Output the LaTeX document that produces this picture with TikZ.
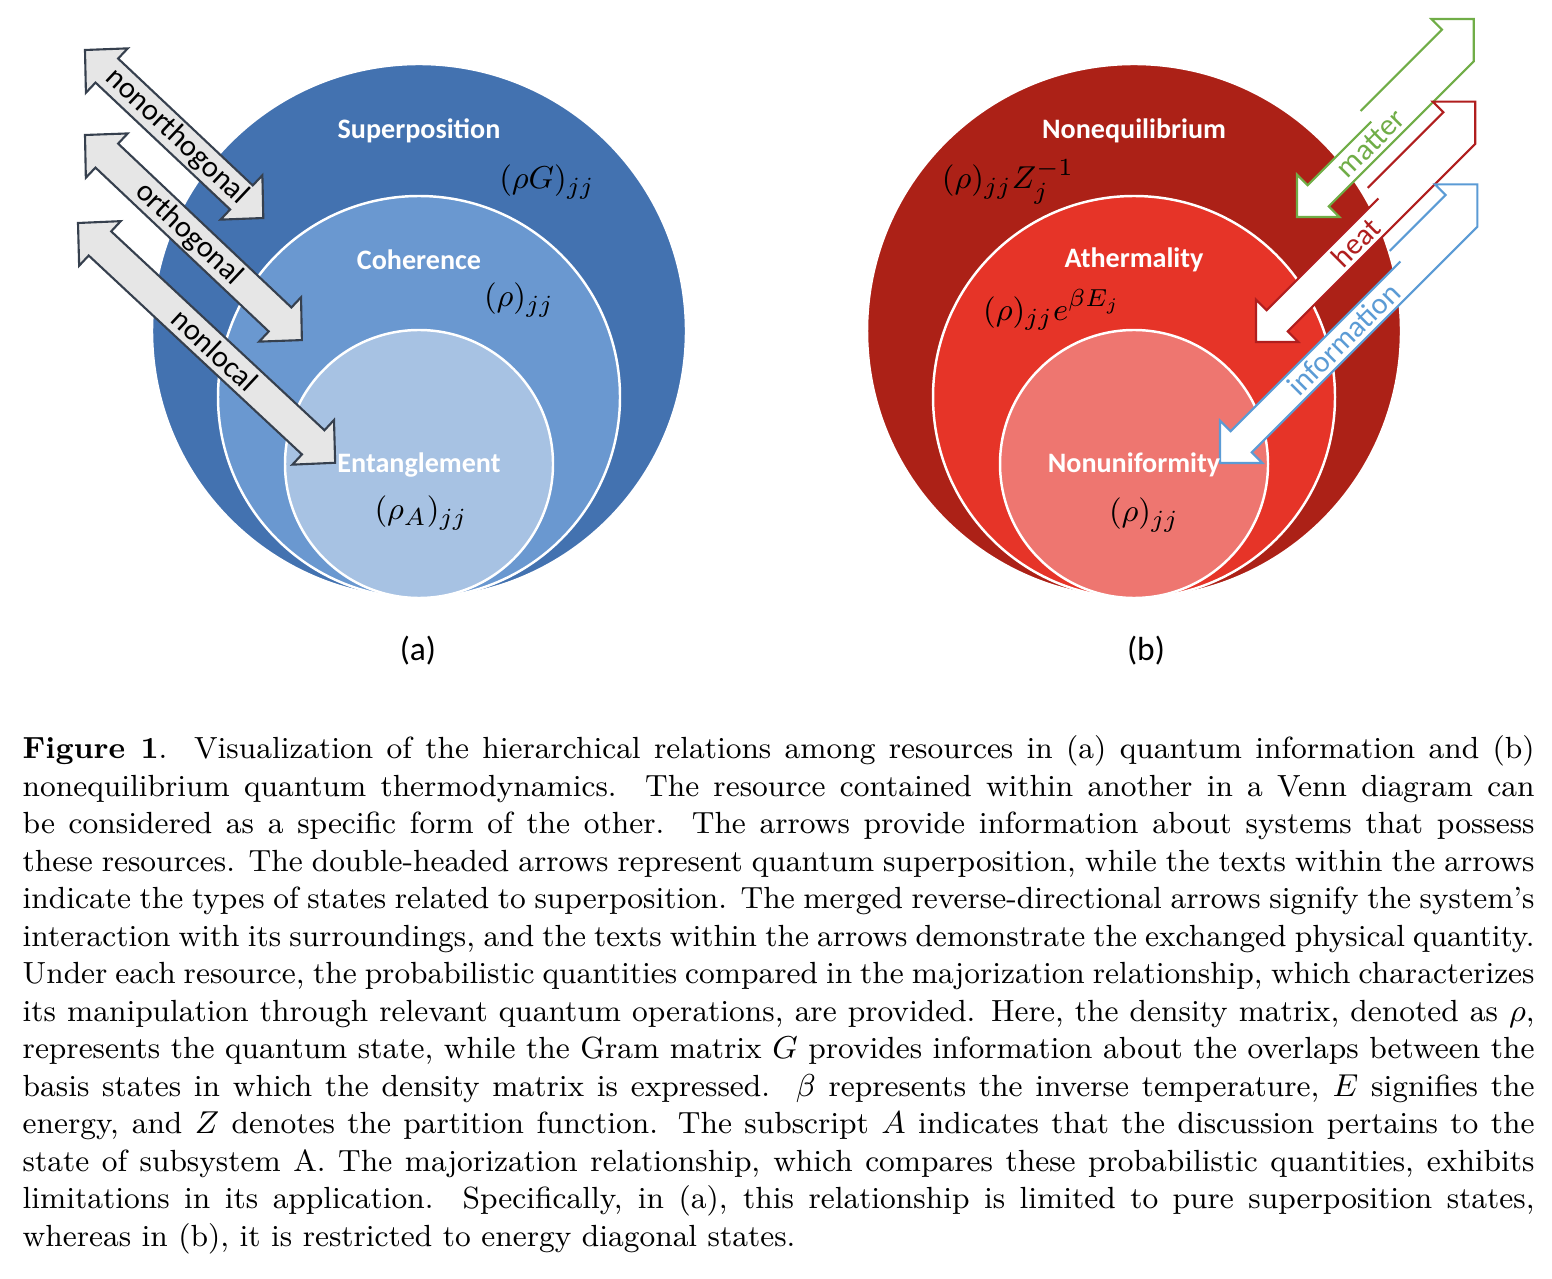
\documentclass[tikz,border=0pt]{standalone}
\usepackage{fontspec}
\newfontfamily\calib{Carlito}
\definecolor{bOut}{HTML}{4372B0}
\definecolor{bMid}{HTML}{6A98D0}
\definecolor{bIn}{HTML}{A7C2E3}
\definecolor{rOut}{HTML}{AC2117}
\definecolor{rMid}{HTML}{E63428}
\definecolor{rIn}{HTML}{EE7670}
\definecolor{arrG}{HTML}{E6E6E6}
\definecolor{arrE}{HTML}{36404E}
\definecolor{cMatter}{HTML}{70AD47}
\definecolor{cHeat}{HTML}{B01E1E}
\definecolor{cInfo}{HTML}{5B9BD5}
\tikzset{
  circ/.style={draw=white, line width=0.7pt},
  grayarr/.style={fill=arrG, draw=arrE, line width=0.6pt, line join=miter},
  title/.style={font=\calib\bfseries\fontsize{8}{9}\selectfont, text=white, inner sep=0pt},
  formula/.style={font=\fontsize{9.5}{11}\selectfont, inner sep=0pt},
  arrtext/.style={font=\calib\fontsize{8.6}{10}\selectfont, inner sep=0pt},
  sub/.style={font=\calib\fontsize{9.5}{11}\selectfont, inner sep=0pt},
}
\newcommand\dblarr[4]{%
  \begin{scope}[shift={(#1,#2)},rotate=#4]
    \draw[grayarr] (0,0)--(30,-30.5)--(30,-16.5)--({#3-30},-16.5)--({#3-30},-30.5)--(#3,0)
      --({#3-30},30.5)--({#3-30},16.5)--(30,16.5)--(30,30.5)--cycle;
  \end{scope}}
\newcommand\mergarr[8]{%
  \begin{scope}[shift={(#1,#2)},rotate=45]
    \fill[white] (0,0)--(30,-30)--(30,-15)--({#3-30},-15)--(#3,15)--({#3-30},45)--({#3-30},30)
      --(#4,30)--(#4,15)--(30,15)--(30,30)--cycle;
    \draw[#5, line width=0.6pt] (#4,15)--(30,15)--(30,30)--(0,0)--(30,-30)--(30,-15)--({#3-30},-15)
      --(#3,15)--({#3-30},45)--({#3-30},30)--(#4,30);
    \node[arrtext, text=#5, rotate=45] (#8) at (#7,0) {#6};
  \end{scope}}
\begin{document}
\begin{tikzpicture}[x=0.01cm,y=0.01cm]
\useasboundingbox (0,0) rectangle (1552,1278);
% left circles
\draw[circ, fill=bOut] (419,947) circle (267);
\draw[circ, fill=bMid] (419,881) circle (201);
\draw[circ, fill=bIn]  (419,814) circle (134);
% right circles
\draw[circ, fill=rOut] (1134,947) circle (267);
\draw[circ, fill=rMid] (1134,881) circle (201);
\draw[circ, fill=rIn]  (1134,814) circle (134);
% left double arrows
\dblarr{85}{1228}{245}{-43.3}
\dblarr{85}{1143}{298.5}{-43.4}
\dblarr{78}{1055}{351.6}{-43.0}
\node[arrtext, rotate=-43.3] (tnon) at (177,1141) {nonorthogonal};
\node[arrtext, rotate=-43.4] (tort) at (189,1044) {orthogonal};
\node[arrtext, rotate=-43.0] (tloc) at (215,928) {nonlocal};
% right merged arrows
\mergarr{1297}{1061}{265}{120}{cMatter}{matter}{104}{tmat}
\mergarr{1256}{936}{325}{188}{cHeat}{heat}{141}{theat}
\mergarr{1220}{815}{379}{270}{cInfo}{information}{175}{tinfo}
% titles and formulas (a)
\node[title] (sup) at (419,1147) {Superposition};
\node[formula] (fsup) at (547,1096) {$(\rho G)_{jj}$};
\node[title] (coh) at (419,1018) {Coherence};
\node[formula] (fcoh) at (519,978) {$(\rho)_{jj}$};
\node[title] (ent) at (419,813) {Entanglement};
\node[formula] (fent) at (421,765) {$(\rho_A)_{jj}$};
% (b)
\node[title] (neq) at (1134,1147) {Nonequilibrium};
\node[formula] (fneq) at (1008,1096) {$(\rho)_{jj}Z_j^{-1}$};
\node[title] (ath) at (1134,1018) {Athermality};
\node[formula] (fath) at (1052,968) {$(\rho)_{jj}e^{\beta E_j}$};
\node[title] (nun) at (1134,813) {Nonuniformity};
\node[formula] (fnun) at (1144,763) {$(\rho)_{jj}$};
\node[sub] (la) at (418,627) {(a)};
\node[sub] (lb) at (1146,627) {(b)};
% caption
\node[anchor=north west, inner sep=0pt, text width=15.11cm, align=justify,
  font=\fontsize{8.7}{10.67}\selectfont] (cap) at (22,543) {%
\hyphenpenalty=10000\exhyphenpenalty=10000\emergencystretch=2em
\textbf{Figure 1}.\ \ Visualization of the hierarchical relations among resources in (a) quantum information and (b)\linebreak
nonequilibrium quantum thermodynamics.\ \ The resource contained within another in a Venn diagram can\linebreak
be considered as a specific form of the other.\ \ The arrows provide information about systems that possess\linebreak
these resources. The double-headed arrows represent quantum superposition, while the texts within the arrows\linebreak
indicate the types of states related to superposition. The merged reverse-directional arrows signify the system’s\linebreak
interaction with its surroundings, and the texts within the arrows demonstrate the exchanged physical quantity.\linebreak
Under each resource, the probabilistic quantities compared in the majorization relationship, which characterizes\linebreak
its manipulation through relevant quantum operations, are provided. Here, the density matrix, denoted as $\rho$,\linebreak
represents the quantum state, while the Gram matrix $G$ provides information about the overlaps between the\linebreak
basis states in which the density matrix is expressed.\ \ $\beta$ represents the inverse temperature, $E$ signifies the\linebreak
energy, and $Z$ denotes the partition function. The subscript $A$ indicates that the discussion pertains to the\linebreak
state of subsystem A. The majorization relationship, which compares these probabilistic quantities, exhibits\linebreak
limitations in its application.\ \ Specifically, in (a), this relationship is limited to pure superposition states,\linebreak
whereas in (b), it is restricted to energy diagonal states.};
\end{tikzpicture}
\end{document}
